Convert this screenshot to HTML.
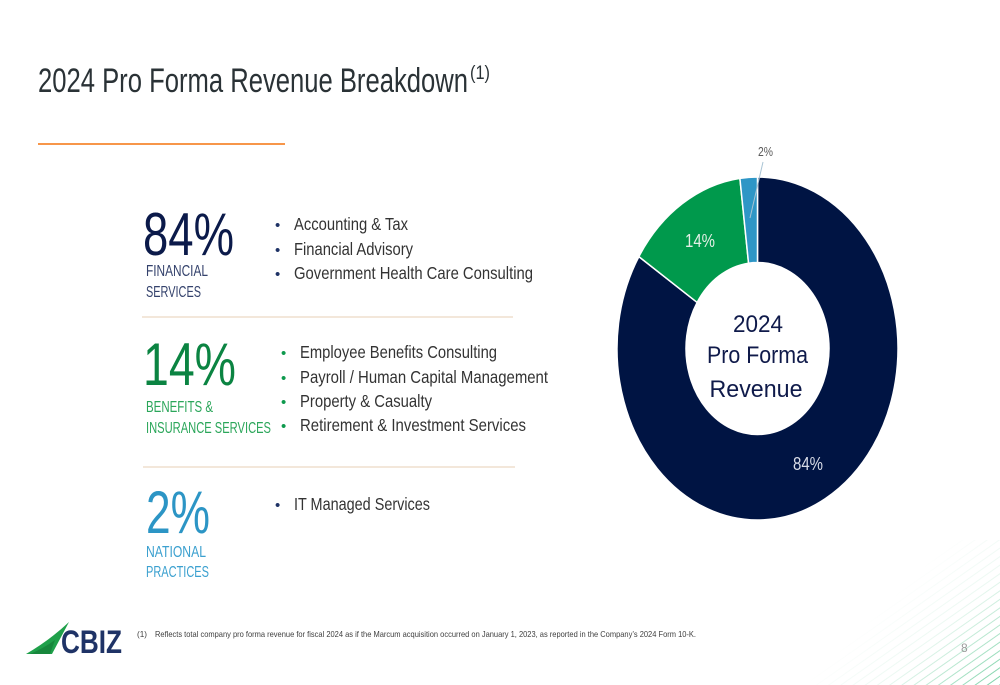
<!DOCTYPE html>
<html>
<head>
<meta charset="utf-8">
<style>
  html, body { margin:0; padding:0; background:#fff; }
  body { width:1000px; height:685px; overflow:hidden; }
  svg { display:block; font-family:"Liberation Sans", sans-serif; }
</style>
</head>
<body>
<svg width="1000" height="685" viewBox="0 0 1000 685" xmlns="http://www.w3.org/2000/svg">
  <defs>
    <pattern id="diag" patternUnits="userSpaceOnUse" width="7" height="7" patternTransform="rotate(-35)">
      <line x1="0" y1="0.5" x2="7" y2="0.5" stroke="#45C083" stroke-width="0.9"/>
    </pattern>
    <linearGradient id="fadeG" gradientUnits="userSpaceOnUse" x1="900" y1="590" x2="1000" y2="690">
      <stop offset="0" stop-color="#fff" stop-opacity="0"/>
      <stop offset="0.4" stop-color="#fff" stop-opacity="0.12"/>
      <stop offset="1" stop-color="#fff" stop-opacity="0.85"/>
    </linearGradient>
    <mask id="fadeM">
      <rect x="800" y="540" width="200" height="145" fill="url(#fadeG)"/>
    </mask>
  </defs>

  <rect width="1000" height="685" fill="#fff"/>

  <!-- decorative diagonal lines -->
  <rect x="800" y="540" width="200" height="145" fill="url(#diag)" mask="url(#fadeM)"/>

  <!-- Title -->
  <text x="38" y="92" font-size="34" fill="#2a3236" textLength="430" lengthAdjust="spacingAndGlyphs">2024 Pro Forma Revenue Breakdown</text>
  <text x="470" y="79" font-size="19" fill="#2a3236" textLength="20" lengthAdjust="spacingAndGlyphs">(1)</text>
  <rect x="38" y="143" width="247" height="2" fill="#F7964A"/>

  <!-- Section 1 -->
  <text x="143" y="255" font-size="60" fill="#0B1A4A" textLength="91" lengthAdjust="spacingAndGlyphs">84%</text>
  <text x="146" y="276" font-size="15.5" fill="#34426C" textLength="62" lengthAdjust="spacingAndGlyphs">FINANCIAL</text>
  <text x="146" y="297" font-size="15.5" fill="#34426C" textLength="55" lengthAdjust="spacingAndGlyphs">SERVICES</text>

  <g font-size="17.5" fill="#333">
    <text x="275" y="230" fill="#1F3366" font-size="15">•</text>
    <text x="294" y="230" textLength="114" lengthAdjust="spacingAndGlyphs">Accounting &amp; Tax</text>
    <text x="275" y="255" fill="#1F3366" font-size="15">•</text>
    <text x="294" y="255" textLength="119" lengthAdjust="spacingAndGlyphs">Financial Advisory</text>
    <text x="275" y="279" fill="#1F3366" font-size="15">•</text>
    <text x="294" y="279" textLength="239" lengthAdjust="spacingAndGlyphs">Government Health Care Consulting</text>
  </g>

  <rect x="142" y="316" width="371" height="2" fill="#F3E7DA"/>

  <!-- Section 2 -->
  <text x="143" y="385" font-size="60" fill="#0B8442" textLength="93" lengthAdjust="spacingAndGlyphs">14%</text>
  <text x="146" y="412" font-size="15.5" fill="#2BA65A" textLength="67" lengthAdjust="spacingAndGlyphs">BENEFITS &amp;</text>
  <text x="146" y="433" font-size="15.5" fill="#2BA65A" textLength="125" lengthAdjust="spacingAndGlyphs">INSURANCE SERVICES</text>

  <g font-size="17.5" fill="#333">
    <text x="281" y="358" fill="#0E9A4E" font-size="15">•</text>
    <text x="300" y="358" textLength="197" lengthAdjust="spacingAndGlyphs">Employee Benefits Consulting</text>
    <text x="281" y="383" fill="#0E9A4E" font-size="15">•</text>
    <text x="300" y="383" textLength="248" lengthAdjust="spacingAndGlyphs">Payroll / Human Capital Management</text>
    <text x="281" y="407" fill="#0E9A4E" font-size="15">•</text>
    <text x="300" y="407" textLength="132" lengthAdjust="spacingAndGlyphs">Property &amp; Casualty</text>
    <text x="281" y="431" fill="#0E9A4E" font-size="15">•</text>
    <text x="300" y="431" textLength="226" lengthAdjust="spacingAndGlyphs">Retirement &amp; Investment Services</text>
  </g>

  <rect x="143" y="466" width="372" height="2" fill="#F3E7DA"/>

  <!-- Section 3 -->
  <text x="146" y="533" font-size="60" fill="#2C95C5" textLength="64" lengthAdjust="spacingAndGlyphs">2%</text>
  <text x="146" y="557" font-size="15.5" fill="#3BA0CF" textLength="60" lengthAdjust="spacingAndGlyphs">NATIONAL</text>
  <text x="146" y="577" font-size="15.5" fill="#3BA0CF" textLength="63" lengthAdjust="spacingAndGlyphs">PRACTICES</text>

  <g font-size="17.5" fill="#333">
    <text x="275" y="510" fill="#1F3366" font-size="15">•</text>
    <text x="294" y="510" textLength="136" lengthAdjust="spacingAndGlyphs">IT Managed Services</text>
  </g>

  <!-- Donut chart -->
  <g stroke="#fff" stroke-width="1.5" stroke-linejoin="round">
    <path d="M757.5,177 A140.5,171.5 0 1 1 638.87,256.61 L697.13,302.42 A71.5,86 0 1 0 757.5,262.5 Z" fill="#001443"/>
    <path d="M638.87,256.61 A140.5,171.5 0 0 1 739.89,178.35 L748.54,263.18 A71.5,86 0 0 0 697.13,302.42 Z" fill="#00994C"/>
    <path d="M739.89,178.35 A140.5,171.5 0 0 1 757.5,177 L757.5,262.5 A71.5,86 0 0 0 748.54,263.18 Z" fill="#2E96C6"/>
  </g>

  <!-- slice labels -->
  <text x="685" y="247" font-size="18" fill="#E4EFE6" textLength="30" lengthAdjust="spacingAndGlyphs">14%</text>
  <text x="793" y="470" font-size="18" fill="#D9DDE8" textLength="30" lengthAdjust="spacingAndGlyphs">84%</text>
  <text x="758" y="156" font-size="13" fill="#595959" textLength="15" lengthAdjust="spacingAndGlyphs">2%</text>
  <line x1="763" y1="162" x2="750" y2="218" stroke="#A9C4D4" stroke-width="1"/>

  <!-- center text -->
  <g font-size="24" fill="#0F1A4A" text-anchor="middle">
    <text x="758" y="332" textLength="50" lengthAdjust="spacingAndGlyphs">2024</text>
    <text x="757.5" y="363" textLength="101" lengthAdjust="spacingAndGlyphs">Pro Forma</text>
    <text x="756" y="397" textLength="93" lengthAdjust="spacingAndGlyphs">Revenue</text>
  </g>

  <!-- Logo -->
  <path d="M26,654 Q50,640 69,622 L52,654 Z" fill="#1FA04A"/>
  <path d="M30,654 Q44,648 55,640 L50,654 Z" fill="#17873C"/>
  <text x="61" y="653" font-size="32" font-weight="bold" fill="#1F3366" textLength="61" lengthAdjust="spacingAndGlyphs">CBIZ</text>

  <!-- Footnote -->
  <text x="137" y="637" font-size="8.5" fill="#404040" textLength="10" lengthAdjust="spacingAndGlyphs">(1)</text>
  <text x="155" y="637" font-size="8.5" fill="#404040" textLength="541" lengthAdjust="spacingAndGlyphs">Reflects total company pro forma revenue for fiscal 2024 as if the Marcum acquisition occurred on January 1, 2023, as reported in the Company’s 2024 Form 10-K.</text>

  <!-- page number -->
  <text x="961" y="652" font-size="12" fill="#9A9A9A">8</text>
</svg>
</body>
</html>
